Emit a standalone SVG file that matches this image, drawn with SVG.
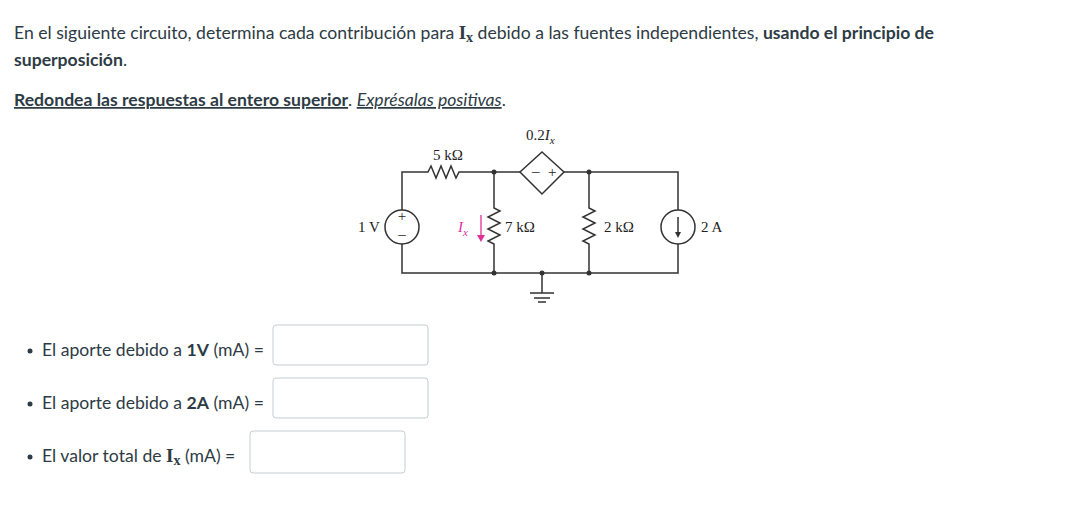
<svg xmlns="http://www.w3.org/2000/svg" width="1089" height="520" viewBox="0 0 1089 520">
<style>
.t{font-family:Lato,"Liberation Sans",sans-serif;font-size:17.6px;fill:#2d3b45}
.c{font-family:"Liberation Serif",serif;font-size:15px;fill:#222}
.m{font-family:"Liberation Serif",serif;font-size:15px;fill:#e0309a;font-style:italic}
.w{fill:none;stroke:#333;stroke-width:1.5}
.box{fill:#fff;stroke:#c7cdd1;stroke-width:1}
</style>
<rect width="1089" height="520" fill="#fff"/>
<text class="t" x="14" y="39">En el siguiente circuito, determina cada contribución para <tspan font-family="Liberation Serif" font-weight="bold" font-size="19">I<tspan font-size="14" dy="3">x</tspan></tspan><tspan dy="-3"> debido a las fuentes independientes, </tspan><tspan font-weight="bold">usando el principio de</tspan></text>
<text class="t" x="14" y="66" font-weight="bold">superposición<tspan font-weight="normal">.</tspan></text>
<text class="t" x="14" y="106"><tspan font-weight="bold" text-decoration="underline">Redondea las respuestas al entero superior</tspan>. <tspan font-style="italic" text-decoration="underline">Exprésalas positivas</tspan>.</text>
<g id="connectors">
<path class="w" d="M402 210V172H428l3-6 5 12 5-12 5 12 5-12 5 12 3-6H520M564 172H678V210M678 244V273H402V244"/>
<path class="w" d="M494 172V208l6 3-12 6 12 6-12 6 12 6-12 6 6 3V273"/>
<path class="w" d="M589 172V208l6 3-12 6 12 6-12 6 12 6-12 6 6 3V273"/>
<path class="w" d="M542 273V293M530 293H554M534 298H550M538 302H546"/>
<path d="M481 215V237" stroke="#e0309a" stroke-width="1.3"/>
<path d="M477 235L481 242L485 235Z" fill="#e0309a"/>
<g fill="#333"><circle cx="494" cy="172" r="2.5"/><circle cx="589" cy="172" r="2.5"/><circle cx="494" cy="273" r="2.5"/><circle cx="542" cy="273" r="2.5"/><circle cx="589" cy="273" r="2.5"/></g>
</g>
<g id="vs"><circle class="w" cx="402" cy="227" r="17"/><text class="c" x="402" y="221" text-anchor="middle" font-size="12">+</text><text class="c" x="402" y="239" text-anchor="middle" font-size="12">–</text><text class="c" x="358" y="232">1 V</text></g>
<g id="r5"><text class="c" x="448" y="160" text-anchor="middle">5 kΩ</text></g>
<g id="dep"><path class="w" d="M542 152L564 172L542 194L520 172Z"/><text class="c" x="532" y="176" font-size="10">–</text><text class="c" x="548" y="177" font-size="11">+</text><text class="c" x="526" y="140">0.2<tspan font-style="italic">I</tspan><tspan font-style="italic" font-size="11" dy="4">x</tspan></text></g>
<g id="r7"><text class="m" x="458" y="232">I<tspan font-size="11" dy="4">x</tspan></text><text class="c" x="505" y="232">7 kΩ</text></g>
<g id="r2"><text class="c" x="604" y="232">2 kΩ</text></g>
<g id="cs"><circle class="w" cx="678" cy="227" r="17"/><path class="w" d="M678 217V236" stroke-width="1.2"/><path d="M675 232L678 238L681 232Z" fill="#333"/><text class="c" x="701" y="232">2 A</text></g>
<g>
<circle cx="30" cy="351" r="2.5" fill="#2d3b45"/><text class="t" x="42" y="356">El aporte debido a <tspan font-weight="bold">1V</tspan> (mA) =</text>
<rect class="box" x="273" y="325" width="155" height="40" rx="3"/>
<circle cx="30" cy="404" r="2.5" fill="#2d3b45"/><text class="t" x="42" y="409">El aporte debido a <tspan font-weight="bold">2A</tspan> (mA) =</text>
<rect class="box" x="273" y="378" width="155" height="40" rx="3"/>
<circle cx="30" cy="457" r="2.5" fill="#2d3b45"/><text class="t" x="42" y="462">El valor total de <tspan font-family="Liberation Serif" font-weight="bold" font-size="19">I<tspan font-size="14" dy="3">x</tspan></tspan><tspan dy="-3"> (mA) =</tspan></text>
<rect class="box" x="250" y="431" width="155" height="42" rx="3"/>
</g>
</svg>
